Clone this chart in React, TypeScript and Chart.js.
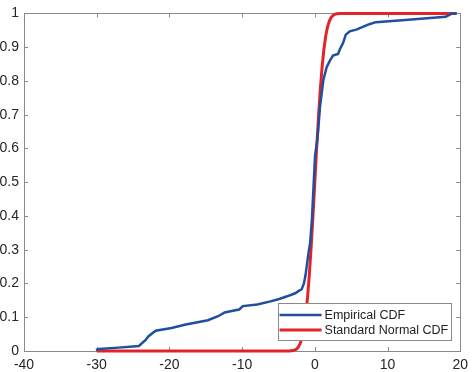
import React, { useEffect, useRef } from "react";
import { Chart, registerables } from "chart.js";

Chart.register(...registerables);

const empiricalLabel = "Empirical CDF";
const normalLabel = "Standard Normal CDF";

const empX = [-30.1, -29.7, -27, -24.2, -23.3, -22.9, -21.9, -19.7, -17.9, -14.7, -13.3, -12.4, -11.1, -10.4, -9.9, -7.9, -6.1, -4.9, -3.8, -2.7, -2.2, -1.8, -1.5, -1.3, -1.1, -0.86, -0.64, -0.4, -0.18, 0.04, 0.37, 0.72, 1.18, 1.63, 2.08, 2.5, 3.2, 3.45, 3.9, 4.26, 4.8, 5.7, 6.6, 7.5, 8.4, 12, 18, 18.9, 19.5];
const empY = [0.003, 0.006, 0.01, 0.015, 0.032, 0.043, 0.06, 0.068, 0.078, 0.091, 0.103, 0.114, 0.12, 0.123, 0.133, 0.138, 0.147, 0.154, 0.162, 0.171, 0.178, 0.183, 0.2, 0.222, 0.253, 0.292, 0.32, 0.388, 0.485, 0.58, 0.63, 0.725, 0.803, 0.841, 0.86, 0.875, 0.88, 0.894, 0.913, 0.937, 0.947, 0.952, 0.96, 0.968, 0.974, 0.98, 0.99, 1.0, 1.0];

const normX = [-30, -3.5, -3, -2.75, -2.5, -2.25, -2, -1.75, -1.5, -1.25, -1, -0.75, -0.5, -0.25, 0, 0.25, 0.5, 0.75, 1, 1.25, 1.5, 1.75, 2, 2.25, 2.5, 2.75, 3, 3.5, 19.5];
const normY = [0, 0.0002, 0.0013, 0.003, 0.006, 0.012, 0.023, 0.04, 0.067, 0.106, 0.159, 0.227, 0.309, 0.401, 0.5, 0.599, 0.691, 0.773, 0.841, 0.894, 0.933, 0.96, 0.977, 0.988, 0.994, 0.997, 0.9987, 0.9998, 1];

const xTicks = [-40, -30, -20, -10, 0, 10, 20];
const yTicks = [0, 0.1, 0.2, 0.3, 0.4, 0.5, 0.6, 0.7, 0.8, 0.9, 1];

const FONT = "Arial, 'Liberation Sans', sans-serif";

const boxPlugin = {
  id: "matlabBox",
  beforeDatasetsDraw(chart: any) {
    const { ctx, chartArea: a, scales } = chart;
    ctx.save();
    ctx.strokeStyle = "#8a8a8a";
    ctx.lineWidth = 1;
    ctx.strokeRect(Math.round(a.left) + 0.5, Math.round(a.top) + 0.5, Math.round(a.right - a.left), Math.round(a.bottom - a.top));
    ctx.beginPath();
    const L = 4;
    xTicks.forEach((v) => {
      const px = Math.round(scales.x.getPixelForValue(v)) + 0.5;
      ctx.moveTo(px, a.bottom);
      ctx.lineTo(px, a.bottom - L);
      ctx.moveTo(px, a.top);
      ctx.lineTo(px, a.top + L);
    });
    yTicks.forEach((v) => {
      const py = Math.round(scales.y.getPixelForValue(v)) + 0.5;
      ctx.moveTo(a.left, py);
      ctx.lineTo(a.left + L, py);
      ctx.moveTo(a.right, py);
      ctx.lineTo(a.right - L, py);
    });
    ctx.stroke();
    ctx.restore();
  },
};

const legendPlugin = {
  id: "insideLegend",
  afterDraw(chart: any) {
    const { ctx, chartArea: a } = chart;
    const ds = chart.data.datasets;
    ctx.save();
    ctx.font = `12.5px ${FONT}`;
    const maxW = Math.max(...ds.map((d: any) => ctx.measureText(d.label).width));
    const lineLen = 42;
    const w = 2 + lineLen + 3 + maxW + 2;
    const h = 37;
    const right = a.right - 10;
    const bottom = a.bottom - 11;
    const left = right - w;
    const top = bottom - h;
    ctx.fillStyle = "#ffffff";
    ctx.fillRect(left, top, w, h);
    ctx.strokeStyle = "#8a8a8a";
    ctx.lineWidth = 1;
    ctx.strokeRect(Math.round(left) + 0.5, Math.round(top) + 0.5, Math.round(w), Math.round(h));
    ds.forEach((d: any, i: number) => {
      const y = top + 12 + i * 15;
      ctx.strokeStyle = d.borderColor;
      ctx.lineWidth = d.borderWidth;
      ctx.beginPath();
      ctx.moveTo(left + 2, y);
      ctx.lineTo(left + 2 + lineLen, y);
      ctx.stroke();
      ctx.fillStyle = "#222222";
      ctx.textBaseline = "middle";
      ctx.textAlign = "left";
      ctx.fillText(d.label, left + 2 + lineLen + 3, y + 1);
    });
    ctx.restore();
  },
};

export default function App() {
  const ref = useRef<HTMLCanvasElement | null>(null);
  useEffect(() => {
    document.body.style.margin = "0";
    const canvas = ref.current!;
    const chart = new Chart(canvas, {
      type: "line",
      data: {
        datasets: [
          {
            label: empiricalLabel,
            data: empX.map((x, i) => ({ x, y: empY[i] })),
            borderColor: "#1f4f9e",
            borderWidth: 2.5,
            pointRadius: 0,
            tension: 0,
            fill: false,
            clip: 6,
          },
          {
            label: normalLabel,
            data: normX.map((x, i) => ({ x, y: normY[i] })),
            borderColor: "#e2242a",
            borderWidth: 3,
            pointRadius: 0,
            tension: 0,
            fill: false,
            clip: 6,
          },
        ],
      },
      options: {
        responsive: false,
        animation: false,
        events: [],
        layout: { padding: { top: 5, right: 9, left: 0, bottom: 0 } },
        plugins: { legend: { display: false }, tooltip: { enabled: false }, title: { display: false } },
        scales: {
          x: {
            type: "linear",
            min: -40,
            max: 20,
            afterBuildTicks: (s: any) => {
              s.ticks = xTicks.map((v) => ({ value: v }));
            },
            afterFit: (s: any) => {
              s.height = 21;
            },
            grid: { display: false, drawTicks: false },
            border: { display: false },
            ticks: {
              color: "#262626",
              font: { family: FONT, size: 14 },
              padding: 6,
              maxRotation: 0,
              autoSkip: false,
              callback: (v: any) => String(v),
            },
          },
          y: {
            type: "linear",
            min: 0,
            max: 1,
            afterBuildTicks: (s: any) => {
              s.ticks = yTicks.map((v) => ({ value: v }));
            },
            afterFit: (s: any) => {
              s.width = 24;
            },
            grid: { display: false, drawTicks: false },
            border: { display: false },
            ticks: {
              color: "#262626",
              font: { family: FONT, size: 14 },
              padding: 5,
              autoSkip: false,
              callback: (v: any) => String(Math.round(Number(v) * 10) / 10),
            },
          },
        },
      },
      plugins: [boxPlugin, legendPlugin],
    });
    return () => chart.destroy();
  }, []);
  return (
    <div style={{ width: 474, height: 372, background: "#fff" }}>
      <canvas ref={ref} width={474} height={372} />
    </div>
  );
}
